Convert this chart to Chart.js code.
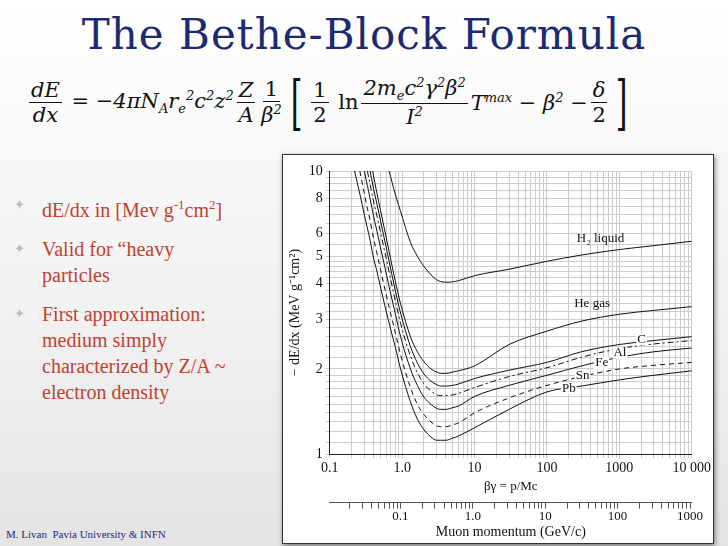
<!DOCTYPE html>
<html><head><meta charset="utf-8">
<script src="https://cdn.jsdelivr.net/npm/chart.js@4"></script>
<style>
body{margin:0;width:728px;height:546px;overflow:hidden;background:linear-gradient(#fff,#f1f1f1 60%,#e4e4e4);font-family:'Liberation Serif','DejaVu Serif',serif;position:relative}
h1{position:absolute;left:0;width:728px;top:10px;margin:0;text-align:center;font-weight:normal;font-size:42px;color:#1c2a72;font-family:'DejaVu Serif',serif;letter-spacing:1px}
#f{position:absolute;left:26px;top:72px;font-size:21px;color:#111;font-style:italic;display:flex;align-items:center;white-space:nowrap;font-family:'DejaVu Serif',serif}
#f > span{display:inline-block}
.fr{display:inline-flex!important;flex-direction:column;align-items:center;margin:0 3px}
.fr > span{display:block}
.fr > span:first-child{border-bottom:1px solid #111;padding:0 2px}
.up{font-style:normal}
.br{font-size:60px;font-style:normal;font-weight:100;transform:scaleX(.5);line-height:60px}
sup,sub{font-size:13px}
ul{position:absolute;left:14px;top:192px;margin:0;padding:0;list-style:none;font-size:20px;color:#c0412f;width:225px}
li{position:relative;padding-left:28px;margin-bottom:13px;line-height:26px}
li:before{content:"✦";position:absolute;left:0;color:#bbb;font-size:13px}
#ft{position:absolute;left:6px;top:528px;font-size:11px;color:#1c2a72}
#box{position:absolute;left:282px;top:154px;width:430px;height:388px;background:#fff;box-shadow:1px 2px 5px rgba(0,0,0,.5);border:1px solid #333}
</style></head><body>
<h1>The Bethe-Block Formula</h1>
<div id="f"><span class="fr"><span>dE</span><span>dx</span></span><span>&nbsp;= −4πN<sub>A</sub>r<sub>e</sub><sup>2</sup>c<sup>2</sup>z<sup>2</sup></span><span class="fr"><span>Z</span><span>A</span></span><span class="fr"><span class="up">1</span><span>β<sup>2</sup></span></span><span class="br">[</span><span class="fr"><span class="up">1</span><span class="up">2</span></span><span class="up">&nbsp;ln</span><span class="fr"><span>2m<sub>e</sub>c<sup>2</sup>γ<sup>2</sup>β<sup>2</sup></span><span>I<sup>2</sup></span></span><span>T<sup>max</sup>&nbsp;− β<sup>2</sup> −</span><span class="fr"><span>δ</span><span class="up">2</span></span><span class="br">]</span></div>
<ul>
<li>dE/dx in [Mev g<sup>-1</sup>cm<sup>2</sup>]</li>
<li>Valid for “heavy particles</li>
<li>First approximation: medium simply characterized by Z/A ~ electron density</li>
</ul>
<div id="ft">M. Livan &nbsp;Pavia University &amp; INFN</div>
<div id="box"><canvas id="c" width="430" height="388"></canvas></div>
<script>
const betaGamma = [0.22,0.26,0.3,0.33,0.36,0.39,0.45,0.5,0.66,0.8,0.95,1.3,1.62,2,2.5,3,3.4,4,5,6,10,30,100,300,1000,3000,10000];
const H2 = [null,null,null,null,null,null,null,null,10,8.3,7.2,5.6,5.0,4.6,4.3,4.13,4.07,4.05,4.06,4.1,4.27,4.5,4.8,5.05,5.28,5.45,5.65];
const He = [null,null,null,null,null,10,8.3,7.3,5.2,4.1,3.4,2.6,2.3,2.12,2.0,1.95,1.93,1.93,1.95,1.97,2.05,2.44,2.72,2.95,3.12,3.22,3.32];
const C  = [null,null,null,null,10,9.0,7.6,6.7,4.8,3.8,3.15,2.4,2.1,1.92,1.81,1.76,1.74,1.74,1.75,1.77,1.85,1.98,2.11,2.3,2.44,2.52,2.6];
const Al = [null,null,null,10,9.0,8.1,6.9,6.1,4.4,3.5,2.9,2.22,1.94,1.77,1.67,1.62,1.61,1.61,1.62,1.64,1.72,1.88,2.02,2.2,2.36,2.45,2.52];
const Fe = [null,null,10,8.9,8.0,7.2,6.1,5.4,3.9,3.15,2.6,2.0,1.75,1.59,1.5,1.45,1.44,1.44,1.46,1.48,1.6,1.75,1.9,2.05,2.2,2.3,2.37];
const Sn = [null,10,8.3,7.4,6.7,6.0,5.1,4.5,3.3,2.7,2.25,1.72,1.5,1.38,1.3,1.26,1.25,1.25,1.27,1.29,1.4,1.58,1.75,1.88,2.0,2.06,2.11];
const Pb = [10,8.3,7.0,6.3,5.7,5.1,4.4,3.9,2.9,2.4,2.0,1.53,1.33,1.22,1.15,1.12,1.12,1.12,1.14,1.16,1.24,1.44,1.66,1.74,1.83,1.9,1.97];
const names = ["H₂ liquid","He gas","C","Al","Fe","Sn","Pb"];
const labelX = [550,420,2020,1020,570,310,200];
const labelY = [5.78,3.39,2.54,2.28,2.1,1.9,1.71];
const dashes = [[],[],[],[6,3,2,3],[],[5,4],[]];
const yTickLabels = [1,2,3,4,5,6,8,10];
const muonTicks = [0.1,1,10,100,1000];
const muonMass = 0.1057;

const series=[H2,He,C,Al,Fe,Sn,Pb];
const ds=series.map((s,i)=>({label:names[i],data:betaGamma.map((x,j)=>({x,y:s[j]})).filter(p=>p.y!==null),
 borderColor:'#111',borderWidth:1,borderDash:dashes[i],pointRadius:0,cubicInterpolationMode:'monotone',xAxisID:'x',yAxisID:'y'}));
function gridTicks(min,max){const t=[];for(let d=min;d<max;d*=10)for(let k=1;k<10;k++)t.push(+(d*k).toPrecision(3));t.push(max);return t;}
const yGrid=[];for(let v=1;v<2;v+=0.1)yGrid.push(+v.toFixed(1));for(let v=2;v<5;v+=0.2)yGrid.push(+v.toFixed(1));for(let v=5;v<=10;v+=0.5)yGrid.push(+v.toFixed(1));
const labelsPlugin={id:'lbl',afterDatasetsDraw(ch){const c=ch.ctx,xs=ch.scales.x,ys=ch.scales.y;c.save();c.textAlign='center';c.textBaseline='middle';
 names.forEach((n,i)=>{const px=xs.getPixelForValue(labelX[i]),py=ys.getPixelForValue(labelY[i]);c.font='13px "Liberation Serif"';
 const w=c.measureText(n).width;if(i>1){c.fillStyle='#fff';c.fillRect(px-w/2-1,py-6,w+2,12);}c.fillStyle='#111';c.fillText(n,px,py);});c.restore();}};
new Chart(document.getElementById('c'),{type:'line',data:{datasets:ds},plugins:[labelsPlugin],
options:{responsive:false,animation:false,layout:{padding:{top:16,right:16,left:4,bottom:2}},
plugins:{legend:{display:false},tooltip:{enabled:false}},
scales:{
 x:{type:'logarithmic',position:'bottom',min:0.1,max:10000,afterBuildTicks:a=>{a.ticks=gridTicks(0.1,10000).map(v=>({value:v}))},
  ticks:{autoSkip:false,maxRotation:0,color:'#111',font:{family:'Liberation Serif',size:14},padding:2,callback:v=>({0.1:'0.1',1:'1.0',10:'10',100:'100',1000:'1000',10000:'10 000'}[v]??'')},
  grid:{color:'#ccc',tickLength:4},border:{color:'#222'},
  title:{display:true,text:'βγ = p/Mc',color:'#111',font:{family:'Liberation Serif',size:13},padding:{top:0,bottom:8}}},
 x2:{type:'logarithmic',position:'bottom',min:0.1*muonMass,max:10000*muonMass,afterBuildTicks:a=>{a.ticks=gridTicks(0.01,1000).filter(v=>v>=a.min).map(v=>({value:v}))},
  ticks:{autoSkip:false,maxRotation:0,color:'#111',font:{family:'Liberation Serif',size:13},padding:0,callback:v=>muonTicks.includes(v)?(v===1?'1.0':String(v)):''},
  grid:{drawOnChartArea:false,tickLength:6,color:'#555'},border:{color:'#555'},
  title:{display:true,text:'Muon momentum (GeV/c)',color:'#111',font:{family:'Liberation Serif',size:14},padding:{top:0,bottom:0}}},
 y:{type:'logarithmic',min:1,max:10,afterBuildTicks:a=>{a.ticks=yGrid.map(v=>({value:v}))},
  ticks:{autoSkip:false,color:'#111',font:{family:'Liberation Serif',size:14},padding:3,callback:v=>yTickLabels.includes(v)?String(v):''},
  grid:{color:'#ccc',tickLength:4},border:{color:'#222'},
  title:{display:true,text:'− dE/dx (MeV g⁻¹cm²)',color:'#111',font:{family:'Liberation Serif',size:14},padding:{top:0,bottom:2}}}
}}});
</script></body></html>
